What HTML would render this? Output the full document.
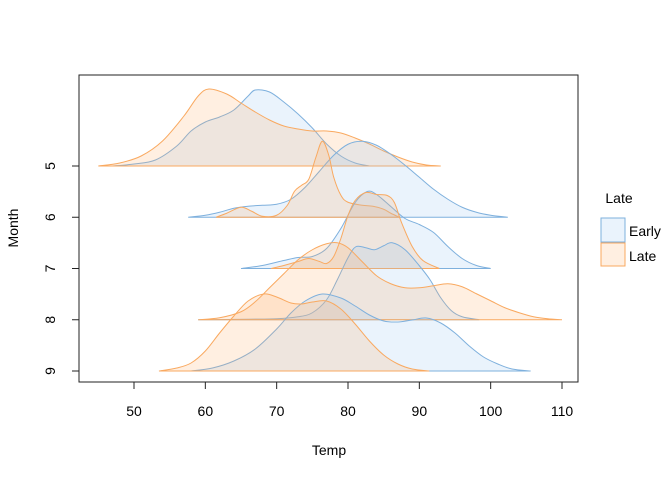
<!DOCTYPE html>
<html><head><meta charset="utf-8"><style>
body{margin:0;background:#fff}
svg{display:block;font-family:"Liberation Sans",Arial,sans-serif}
</style></head><body>
<svg id="chart" width="672" height="480">
<rect x="0" y="0" width="672" height="480" fill="#fff"/>
<g id="marks"></g>
<rect x="79" y="75" width="499" height="307" fill="none" stroke="#222" stroke-width="1"/>
<g id="axes"></g>
<text x="329" y="455" font-size="14" text-anchor="middle">Temp</text>
<text transform="translate(18,228) rotate(-90)" font-size="14" text-anchor="middle">Month</text>
<g>
<text x="619" y="203" font-size="14" text-anchor="middle">Late</text>
<g>
<rect x="601" y="218" width="24" height="24" fill="rgb(234,243,252)" stroke="#7eb0dd"/>
<text x="629" y="236" font-size="14">Early</text></g>
<g>
<rect x="601" y="243" width="24" height="23" fill="rgb(255,239,225)" stroke="#f9a960"/>
<text x="629" y="261" font-size="14">Late</text></g>
</g>
</svg>
<script>
const months=["5","6","7","8","9"];
const xTicks=[50,60,70,80,90,100,110];
const e5T=[47,50,53,56,58,60,62,64,66,67,69,71,73,75,77,79,81,83];
const e5D=[0,2,6,20,35,44,49,56,70,76,74,64,52,38,22,10,3,0];
const l5T=[45,48,51,54,57,59,60.5,63,65,67,69,71,73,75,77,79,81,83,85,87,89,91,93];
const l5D=[0,3,10,25,50,70,77,72,63,54,46,40,37,35,35,33,28,22,15,9,4,1,0];
const e6T=[57.6,60,62,64,66,68,70,72,74,76,78,80,82,84,86,88,90,92,94,96,98,100,102.4];
const e6D=[0,2,5,9,11,12,13,18,30,46,62,73,76,72,63,52,40,28,18,10,5,2,0];
const l6T=[61.5,63,65,66.5,68,70,71.5,72.5,73.5,74.5,75.5,76.4,77.3,78,79,80,82,83.5,85,86,87.2];
const l6D=[0,4,10,6,1,2,12,26,32,38,60,76,62,40,22,15,12,11,8,4,0];
const e7T=[65,68,71,73,75,77,79,81,82.7,84,86,88,90,92,94,96,98,100];
const e7D=[0,3,8,11,12,20,40,66,77,74,62,50,44,36,22,10,3,0];
const l7T=[69.2,71,73,74.5,76,77,78,79,80,81,82.5,84,85.5,86.5,87.5,89,90.5,92.8];
const l7D=[0,3,7,10,7,5,12,30,53,68,76,74,73,66,46,22,8,0];
const e8T=[59,66,70,73,75,77,78.5,80,81.1,82.5,83.7,85,86.2,88,90,91.5,93,94.5,96,98.4];
const e8D=[0,0.5,1,3,7,20,40,62,73,72,70,74,77,70,54,40,22,9,3,0];
const l8T=[59,62,65,67,69,71,73,75,77,78.5,80,82,84,86,88,90,92,94,96,98,100,102,104,106,108,110];
const l8D=[0,2,8,18,32,46,60,70,76,77,72,58,44,36,32,32,34,36,33,26,19,12,7,3,1,0];
const e9T=[58,61,64,67,70,72,74,76.4,79,81,83,85,87,89,91,93,95,97,99,101,103,105.6];
const e9D=[0,3,10,22,42,58,70,77,73,65,56,50,49,51,53,48,38,25,14,7,2,0];
const l9T=[53.5,56,58,60,62,64,66,68.2,70,72,73.5,75,77,79,81,83,85,87,89,91.4];
const l9D=[0,3,8,20,38,55,70,77,74,68,67,69,70,62,47,30,16,7,2,0];
const earlyT=[e5T,e6T,e7T,e8T,e9T], earlyD=[e5D,e6D,e7D,e8D,e9D];
const lateT=[l5T,l6T,l7T,l8T,l9T], lateD=[l5D,l6D,l7D,l8D,l9D];

const NS="http://www.w3.org/2000/svg";
function xS(t){return 134+(t-50)*428/60;}
function yBase(i){return 166+i*51.25;}
function hS(d){return d;}
function pathFor(T,D,i){
  const p=T.map((t,k)=>[xS(t),yBase(i)-hS(D[k])]);
  let s="M"+p[0][0]+","+p[0][1];
  for(let k=0;k<p.length-1;k++){
    const p0=p[Math.max(0,k-1)],p1=p[k],p2=p[k+1],p3=p[Math.min(p.length-1,k+2)];
    const c1=[p1[0]+(p2[0]-p0[0])/6,p1[1]+(p2[1]-p0[1])/6];
    const c2=[p2[0]-(p3[0]-p1[0])/6,p2[1]-(p3[1]-p1[1])/6];
    s+=`C${c1[0]},${c1[1]} ${c2[0]},${c2[1]} ${p2[0]},${p2[1]}`;
  }
  return s;
}
const marks=document.getElementById("marks");
function draw(T,D,i,fill,stroke,name){
  const g=document.createElementNS(NS,"path");
  g.setAttribute("d",pathFor(T,D,i)+"Z");
  g.setAttribute("fill",fill);g.setAttribute("fill-opacity","0.2");
  g.setAttribute("stroke",stroke);g.setAttribute("stroke-width","1");
  
  
  marks.appendChild(g);
}
months.forEach((m,i)=>{
  draw(earlyT[i],earlyD[i],i,"rgb(151,196,240)","#7eb0dd","density-early-month-"+m);
  draw(lateT[i],lateD[i],i,"rgb(253,174,107)","#f9a960","density-late-month-"+m);
});
const axes=document.getElementById("axes");
function line(x1,y1,x2,y2){const l=document.createElementNS(NS,"line");
 l.setAttribute("x1",x1);l.setAttribute("y1",y1);l.setAttribute("x2",x2);l.setAttribute("y2",y2);
 l.setAttribute("stroke","#222");axes.appendChild(l);return l;}
xTicks.forEach(t=>{
  const l=line(xS(t),382,xS(t),389);
  
  
  const tx=document.createElementNS(NS,"text");
  tx.setAttribute("x",xS(t));tx.setAttribute("y",416);tx.setAttribute("font-size","14");tx.setAttribute("text-anchor","middle");
  tx.textContent=t;
  
  
  axes.appendChild(tx);
});
months.forEach((m,i)=>{
  const l=line(72,yBase(i),79,yBase(i));
  
  
  const tx=document.createElementNS(NS,"text");
  tx.setAttribute("transform",`translate(55,${yBase(i)}) rotate(-90)`);
  tx.setAttribute("font-size","14");tx.setAttribute("text-anchor","middle");
  tx.textContent=m;
  
  
  axes.appendChild(tx);
});
</script>
</body></html>
